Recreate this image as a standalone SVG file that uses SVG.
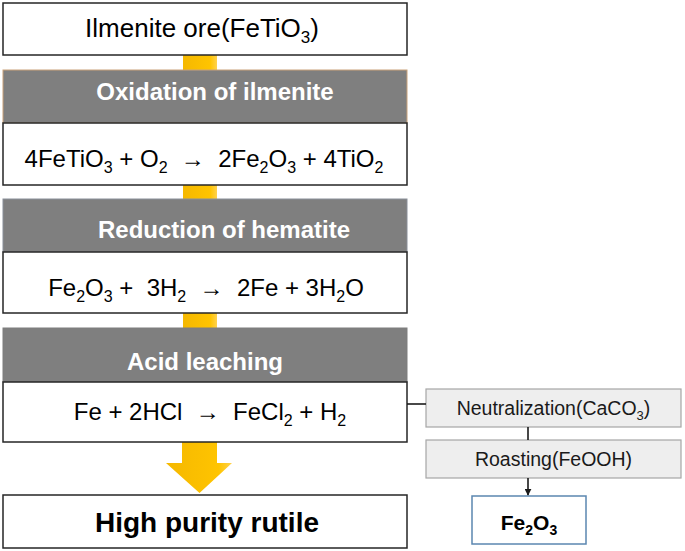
<svg xmlns="http://www.w3.org/2000/svg" width="685" height="551" viewBox="0 0 685 551">
<style>
.box{fill:#fff;stroke:#262626;stroke-width:1.5}
.hdr{fill:#7f7f7f;stroke:#8a8f99;stroke-width:1}
.t{font-family:"Liberation Sans",Arial,sans-serif;fill:#000;text-anchor:middle}
.h{font-family:"Liberation Sans",Arial,sans-serif;font-weight:bold;fill:#fff;text-anchor:middle;font-size:24px}
.side{fill:#eeeeee;stroke:#a6a6a6;stroke-width:1.2}
.s{font-family:"Liberation Sans",Arial,sans-serif;fill:#1a1a1a;text-anchor:middle;font-size:19.5px}
.ln{stroke:#1a1a1a;stroke-width:1.6;fill:none}
</style>
<defs>
<linearGradient id="yg" x1="0" x2="1" y1="0" y2="0">
<stop offset="0" stop-color="#F5B800"/>
<stop offset="0.8" stop-color="#FFC400"/>
<stop offset="1" stop-color="#FFD24D"/>
</linearGradient>
<marker id="ah" viewBox="0 0 10 10" refX="9" refY="5" markerWidth="7" markerHeight="7" orient="auto" markerUnits="userSpaceOnUse">
<path d="M0,0 L10,5 L0,10 z" fill="#1a1a1a"/>
</marker>
</defs>

<g id="flow-bars">
<rect x="183" y="55" width="34" height="15" style="fill:url(#yg)"/>
<rect x="183" y="185" width="34" height="14" style="fill:url(#yg)"/>
<rect x="183" y="313" width="34" height="15" style="fill:url(#yg)"/>
<path d="M182,442 L217,442 L217,463 L232,463 L199.5,493 L166,463 L182,463 Z" style="fill:url(#yg)"/>
</g>

<g id="n-ore">
<rect class="box" x="3" y="3" width="404" height="52"/>
<text class="t" x="202" y="37" font-size="26">Ilmenite ore(FeTiO<tspan font-size="17" dy="6">3</tspan><tspan dy="-6">)</tspan></text>
</g>

<g id="n-oxidation">
<rect class="hdr" x="3" y="70" width="404" height="53" style="stroke:#c9a27a"/>
<text class="h" x="215" y="100">Oxidation of ilmenite</text>
<rect class="box" x="3" y="123" width="404" height="62"/>
<text class="t" x="204" y="167" font-size="24">4FeTiO<tspan font-size="16" dy="6">3</tspan><tspan dy="-6"> + O</tspan><tspan font-size="16" dy="6">2</tspan><tspan dy="-6">&#160;&#160;→&#160;&#160;2Fe</tspan><tspan font-size="16" dy="6">2</tspan><tspan dy="-6">O</tspan><tspan font-size="16" dy="6">3</tspan><tspan dy="-6"> + 4TiO</tspan><tspan font-size="16" dy="6">2</tspan></text>
</g>

<g id="n-reduction">
<rect class="hdr" x="3" y="199" width="404" height="53"/>
<text class="h" x="224" y="238">Reduction of hematite</text>
<rect class="box" x="3" y="252" width="404" height="61"/>
<text class="t" x="206" y="296" font-size="24">Fe<tspan font-size="16" dy="6">2</tspan><tspan dy="-6">O</tspan><tspan font-size="16" dy="6">3</tspan><tspan dy="-6"> +&#160;&#160;3H</tspan><tspan font-size="16" dy="6">2</tspan><tspan dy="-6">&#160;&#160;→&#160;&#160;2Fe + 3H</tspan><tspan font-size="16" dy="6">2</tspan><tspan dy="-6">O</tspan></text>
</g>

<g id="n-leaching">
<rect class="hdr" x="3" y="328" width="404" height="54" style="stroke:#7f7f7f"/>
<text class="h" x="205" y="370">Acid leaching</text>
<rect class="box" x="3" y="382" width="404" height="60"/>
<text class="t" x="210" y="420" font-size="24">Fe + 2HCl&#160;&#160;→&#160;&#160;FeCl<tspan font-size="16" dy="6">2</tspan><tspan dy="-6"> + H</tspan><tspan font-size="16" dy="6">2</tspan></text>
</g>

<g id="n-rutile">
<rect class="box" x="3" y="495" width="404" height="53"/>
<text class="t" x="207" y="532" font-size="28" font-weight="bold">High purity rutile</text>
</g>

<g id="n-neutralization">
<rect class="side" x="426" y="389" width="255" height="38"/>
<text class="s" x="553.5" y="415">Neutralization(CaCO<tspan font-size="13" dy="5">3</tspan><tspan dy="-5">)</tspan></text>
</g>

<g id="n-roasting">
<rect class="side" x="426" y="440" width="255" height="38"/>
<text class="s" x="553.5" y="466">Roasting(FeOOH)</text>
</g>

<g id="n-fe2o3">
<rect x="472" y="496" width="114" height="48" fill="#fff" stroke="#5b86b0" stroke-width="1.5"/>
<text class="t" x="529" y="530" font-size="21" font-weight="bold" fill="#111">Fe<tspan font-size="14" dy="5">2</tspan><tspan dy="-5">O</tspan><tspan font-size="14" dy="5">3</tspan></text>
</g>

<g id="connectors">
<line class="ln" x1="407" y1="404" x2="426" y2="404"/>
<line class="ln" x1="528" y1="427" x2="528" y2="440"/>
<line class="ln" x1="528" y1="478" x2="528" y2="495" marker-end="url(#ah)"/>
</g>
</svg>
